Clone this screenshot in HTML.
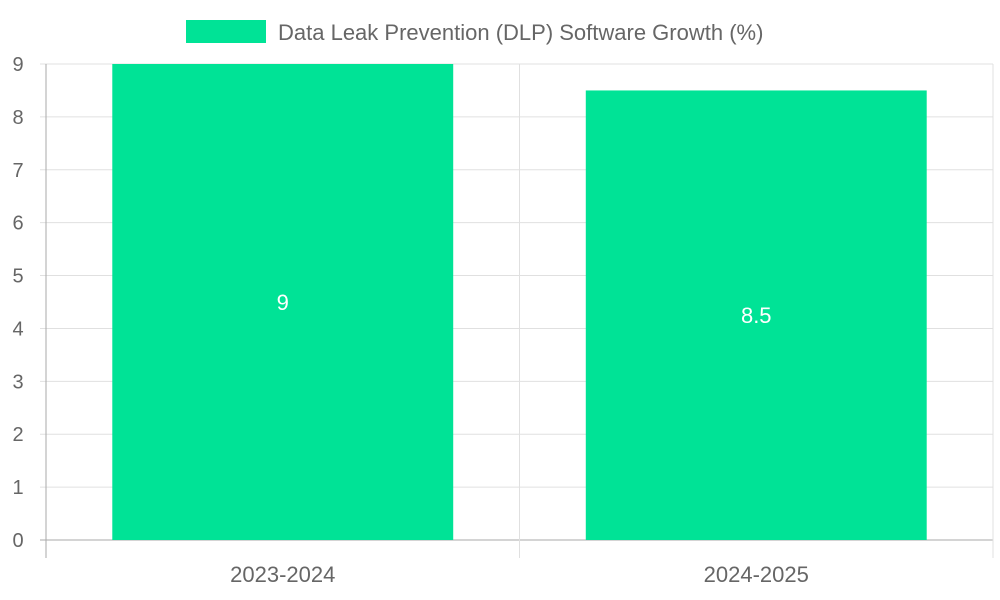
<!DOCTYPE html>
<html><head><meta charset="utf-8"><style>
html,body{margin:0;padding:0;background:#fff;}
svg{display:block;font-family:"Liberation Sans",sans-serif;}
</style></head><body>
<svg id="chart" width="1000" height="600">
<g id="legend">
<rect x="186" y="20" width="80" height="23" fill="#00e396"></rect>
<text x="278" y="40" font-size="22" fill="#666">Data Leak Prevention (DLP) Software Growth (%)</text>
</g>
<g id="grid"></g>
<g id="bars"></g>
<g id="axes"></g>
</svg>
<script>
const categories = ["2023-2024", "2024-2025"];
const values = [9, 8.5];
const yTicks = [0,1,2,3,4,5,6,7,8,9];
const NS="http://www.w3.org/2000/svg";
const L=46,R=993,T=64,B=540,yMax=9;
const y=v=>B-(v/yMax)*(B-T);
const bw=(R-L)/categories.length;
const x=i=>L+bw*i;
function mk(tag,attrs,parent){const e=document.createElementNS(NS,tag);for(const k in attrs)e.setAttribute(k,attrs[k]);parent.appendChild(e);return e;}
const grid=document.getElementById('grid'),bars=document.getElementById('bars'),axes=document.getElementById('axes');
yTicks.forEach(t=>{
  const ln=mk('line',{x1:40,x2:R,y1:y(t),y2:y(t),stroke:t===0?'#aaa':'#e0e0e0','stroke-width':1},grid);
  
  
  const tx=mk('text',{x:18,y:y(t)+7,'font-size':20,fill:'#666','text-anchor':'middle'},axes);
  tx.textContent=t;
  
  
});
for(let i=0;i<=categories.length;i++){
  const ln=mk('line',{x1:x(i),x2:x(i),y1:T,y2:558,stroke:i===0?'#aaa':'#e0e0e0','stroke-width':1},grid);
  
  
}
categories.forEach((c,i)=>{
  const w=bw*0.72,cx=x(i)+bw/2;
  const r=mk('rect',{x:cx-w/2,y:y(values[i]),width:w,height:B-y(values[i]),fill:'#00e396'},bars);
  
  
  const v=mk('text',{x:cx,y:(y(values[i])+B)/2+8,'font-size':22,fill:'#fff','text-anchor':'middle'},bars);
  v.textContent=values[i];
  
  
  const lb=mk('text',{x:cx,y:582,'font-size':22,fill:'#666','text-anchor':'middle'},axes);
  lb.textContent=c;
  
  
});
</script>
</body></html>
